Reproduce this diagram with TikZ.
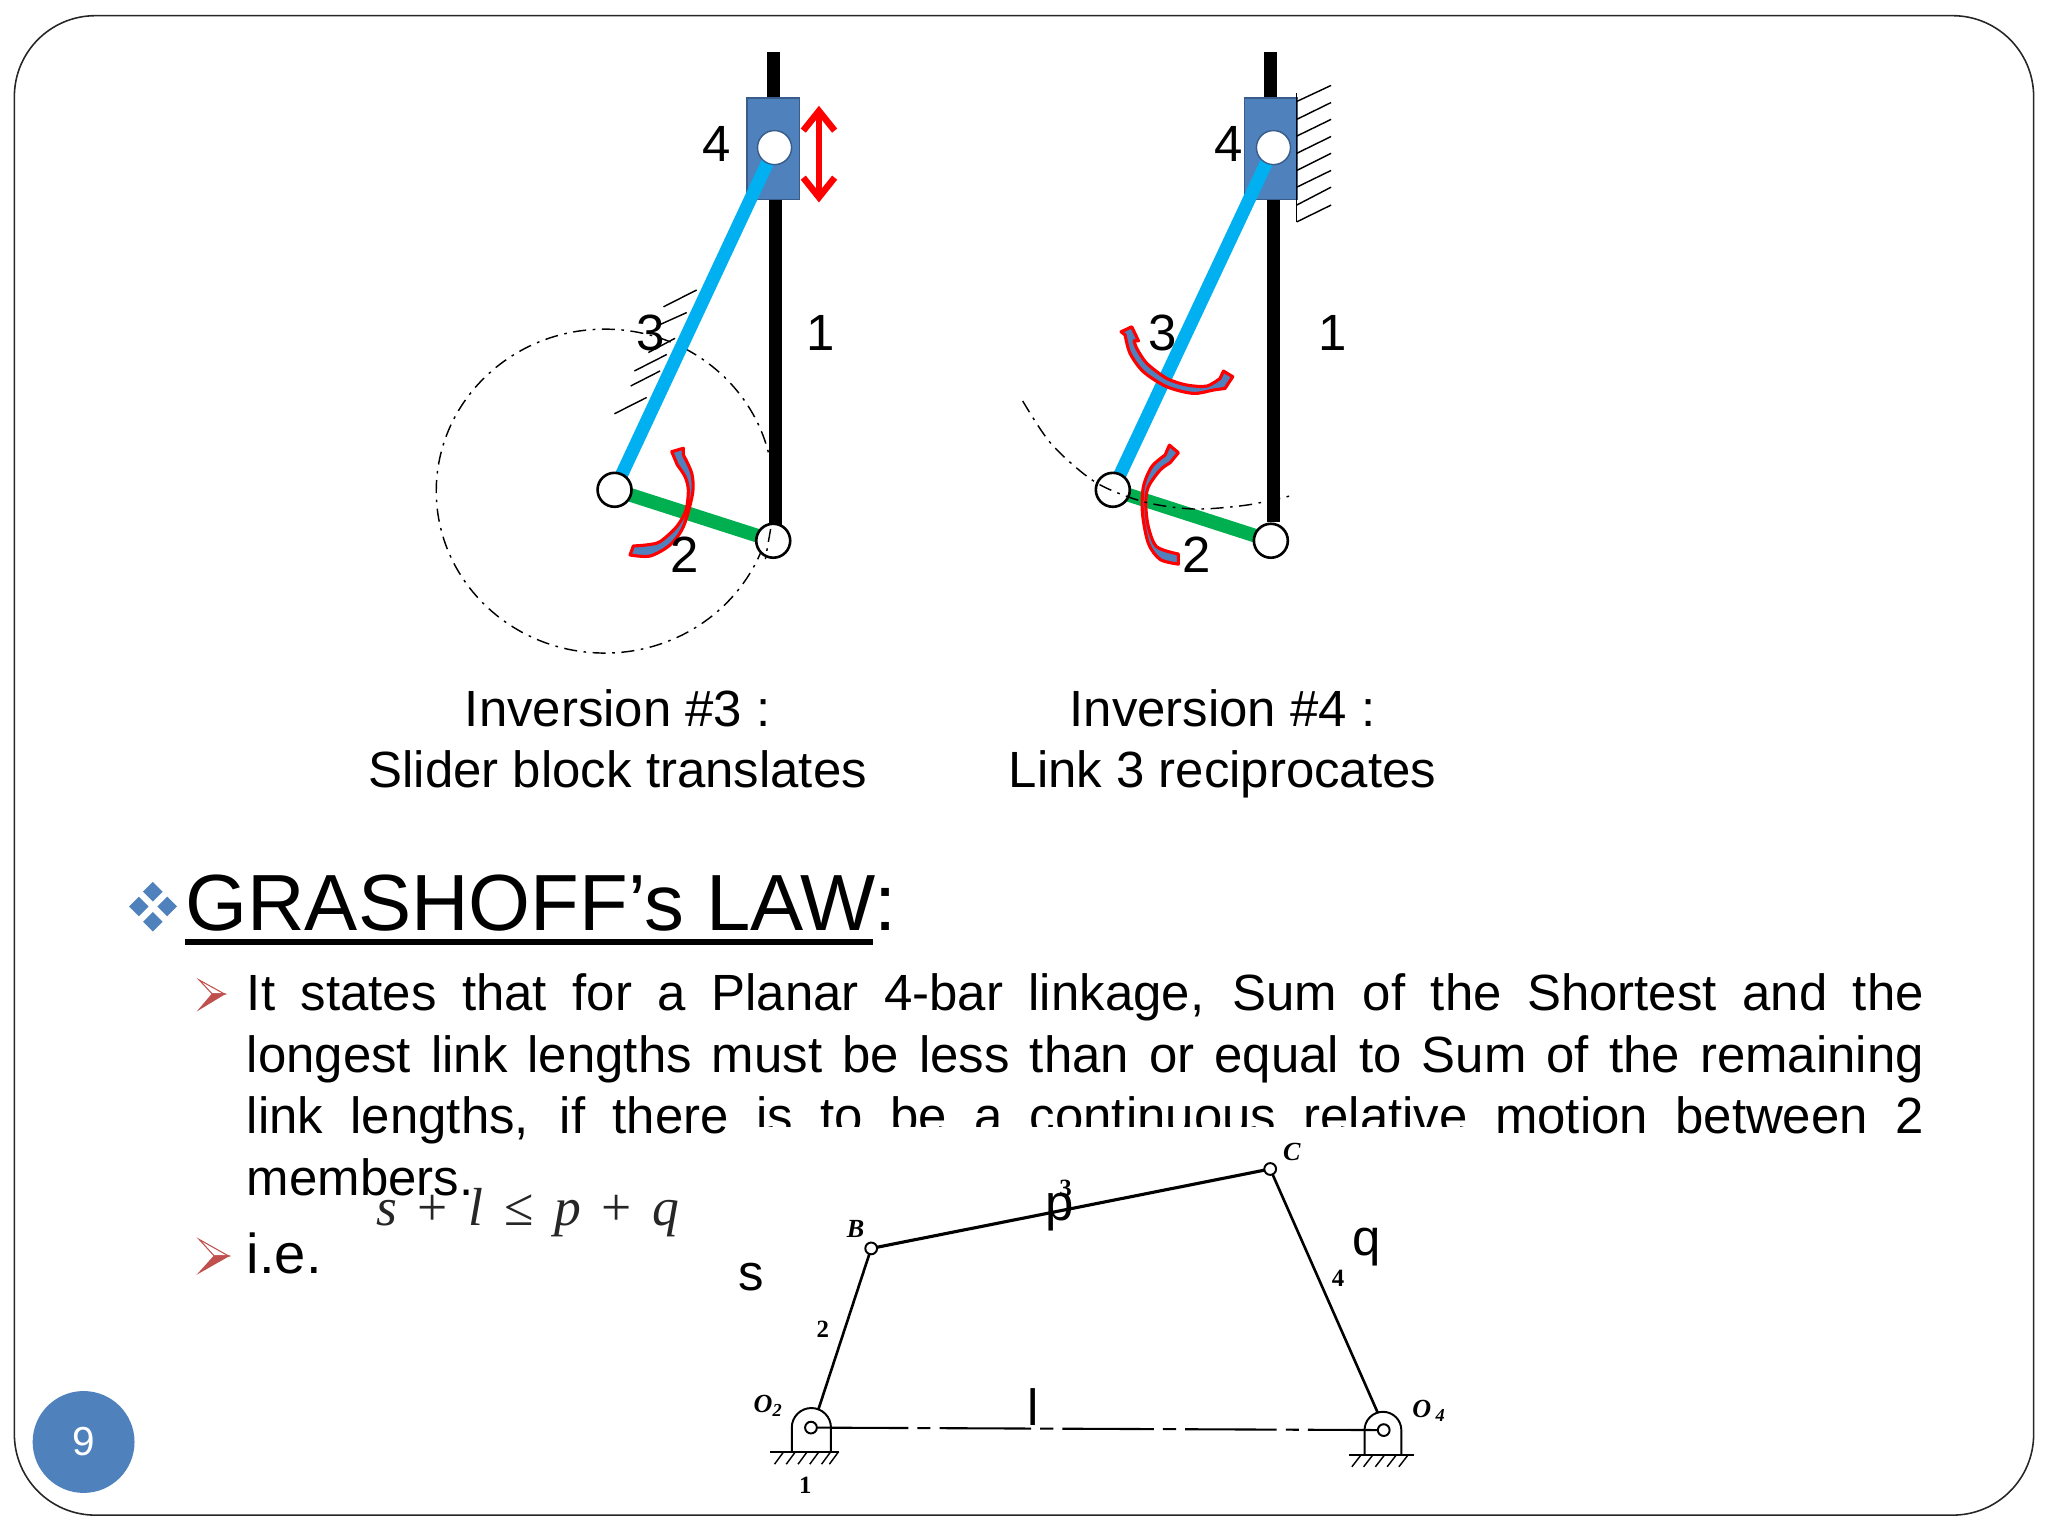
\documentclass[tikz,border=0pt]{standalone}
\usepackage{fontspec}
\setmainfont{Liberation Sans}
\newfontfamily\serifb{Liberation Serif}
\usetikzlibrary{arrows.meta,backgrounds}
\definecolor{blockblue}{HTML}{4F81BD}
\definecolor{blockedge}{HTML}{385D8A}
\definecolor{linkcyan}{HTML}{00B0F0}
\definecolor{linkgreen}{HTML}{00B050}
\definecolor{bulletred}{HTML}{C0504D}
\newcommand{\sz}[1]{\fontsize{#1}{#1}\selectfont}
\tikzset{
  x=1pt,y=-1pt,
  every node/.style={inner sep=0pt,outer sep=0pt},
  capt/.style={anchor=base,font=\sz{39}},
  num/.style={font=\sz{39}},
  bodyline/.style={anchor=base west,font=\sz{39}},
  pivot/.style={circle,draw=black,line width=2pt,fill=white,minimum size=26pt},
  pin/.style={circle,draw=blockedge,line width=1pt,fill=white,minimum size=26pt},
  slider/.style={rectangle,draw=blockedge,line width=1pt,fill=blockblue,minimum width=40pt,minimum height=78pt},
  barlink/.style={line width=10pt,black},
  crank/.style={line width=10.5pt,linkgreen},
  coupler/.style={line width=10pt,linkcyan},
  hatchline/.style={line width=1.1pt,black},
  chain/.style={line width=1.1pt,black,dash pattern=on 10pt off 5pt on 2pt off 5pt},
  rotarrow/.style={draw=red,line width=2.4pt,fill=blockblue,line join=round},
  scanlink/.style={line width=2pt,black},
  smallhinge/.style={circle,draw=black,line width=1.5pt,fill=white,minimum size=9pt},
  scan/.style={font=\serifb\bfseries\sz{19}},
  scanit/.style={font=\serifb\itshape\bfseries\sz{20}},
  scanground/.style={line width=1.5pt,black},
}
\begin{document}
\begin{tikzpicture}
\useasboundingbox (0,0) rectangle (1568,1176);
\begin{pgfonlayer}{background}
\fill[white] (0,0) rectangle (1568,1176);
\end{pgfonlayer}
% frame
\node[draw=black!85,line width=1.2pt,rounded corners=62pt,minimum width=1546pt,minimum height=1148pt] (frame) at (784,586) {};
\node[circle,fill=blockblue,minimum size=78pt,text=white,font=\sz{31}] (pagenum) at (64,1104) {9};

% ===== left mechanism =====
\node[pivot] (pa) at (470.5,375) {};
\node[pivot] (pb) at (592,414) {};
\coordinate (bartopa) at (592,40);
\coordinate (barmida) at (592,90);
\coordinate (barlowa) at (593.5,140);
\begin{pgfonlayer}{background}
  \draw[chain] (463,376) ellipse [x radius=129,y radius=124];
  \foreach \a/\b/\c/\d in {508/234.9/533.4/222, 502.8/249.6/525.8/239.3, 496.4/269.9/516.8/259,
    485.7/284/510.5/271.4, 482.9/295.5/505.4/284, 470.4/316.8/495.1/304.3}
    \draw[hatchline] (\a,\b) -- (\c,\d);
  \draw[barlink] (bartopa) -- (barmida);
  \draw[barlink] (barlowa) -- (593.5,405);
  \node[slider] (blocka) at (592,114) {};
  \node[pin] (pina) at (593,113) {};
  \draw[coupler] (pina.center) -- (pa.center);
  \node[pin] at (pina.center) {};
  \draw[crank] (pa.center) -- (pb.center);
\end{pgfonlayer}
\draw[chain] (590,405) -- (586,428);
\draw[red,line width=5pt,{Straight Barb[length=15pt,width=24pt]}-{Straight Barb[length=15pt,width=24pt]}] (627,81) -- (627,155);
\node[num] (la4) at (549,110) {4};
\node[num] (la3) at (498,255) {3};
\node[num] (la1) at (628,255) {1};
\draw[rotarrow] plot[smooth] coordinates {(482.4,424.9) (497.7,425.7) (513,417.2) (523.2,403.2) (530.3,377.7) (529.6,362.4) (523.2,348.3)}
  -- (523.2,343.2) -- (514.3,345.8) -- (518.6,356)
  -- plot[smooth] coordinates {(518.6,356) (524.5,364.9) (527,375.1) (525.2,390.5) (518.1,403.2) (505.3,414.7) (495.1,417.2) (484.9,418)} -- cycle;
\node[num] (la2) at (524,425) {2};

% ===== right mechanism =====
\node[pivot] (pc) at (852,375) {};
\node[pivot] (pd) at (973,414) {};
\coordinate (bartopb) at (973,40);
\coordinate (barmidb) at (973,90);
\coordinate (barlowb) at (975,140);
\begin{pgfonlayer}{background}
  \draw[barlink] (bartopb) -- (barmidb);
  \draw[barlink] (barlowb) -- (975,400);
  \node[slider] (blockb) at (973,114) {};
  \node[pin] (pinb) at (975,113) {};
  \draw[coupler] (pinb.center) -- (pc.center);
  \node[pin] at (pinb.center) {};
  \draw[crank] (pc.center) -- (pd.center);
\end{pgfonlayer}
\draw[hatchline] (992.8,71.4) -- (992.8,170);
\foreach \b/\d in {77.7/65.4,91.4/78.5,104.2/91.4,117.4/104.5,130.5/117.4,143.3/130.5,157/143.3,169.9/157}
  \draw[hatchline] (992.8,\b) -- (1019.1,\d);
\node[num] (lb4) at (941,110) {4};
\node[num] (lb3) at (890,255) {3};
\node[num] (lb1) at (1020,255) {1};
\node[num] (lb2) at (916,425) {2};
\draw[rotarrow] plot[smooth] coordinates {(902.2,431.9) (888.2,428.3) (879.2,416) (874.7,393.1) (875.4,372.7) (881.8,357.3) (892,348.4)}
  -- (895.3,340.8) -- (902.2,346.6) -- (895.8,354.3)
  -- plot[smooth] coordinates {(895.8,354.3) (888.2,359.9) (879.2,372.7) (877.2,385.4) (879.2,403.3) (885.6,418.6) (902.2,424.2)} -- cycle;
\draw[rotarrow] plot[smooth] coordinates {(861.4,256.5) (865.2,270.6) (875.4,284.6) (893.3,296.1) (913.7,301.2) (929,298.6) (937.9,297.4)}
  -- (943.8,288.4) -- (936.7,284.1) -- (934.1,289.7)
  -- plot[smooth] coordinates {(934.1,289.7) (923.9,295.6) (908.6,294.8) (893.3,289.7) (878,278.2) (870.3,266.7) (868.3,260.9)}
  -- (871.6,260.9) -- (866.5,250.2) -- (858.3,254) -- cycle;
\draw[chain] plot[smooth] coordinates {(783,307) (805,340) (838.4,369) (875.4,384.1) (913.7,389.7) (954.5,386.7) (989,379.4)};

% captions
\node[capt] (cap3a) at (473,556) {Inversion \#3 :};
\node[capt] (cap3b) at (473,603) {Slider block translates};
\node[capt] (cap4a) at (936,556) {Inversion \#4 :};
\node[capt] (cap4b) at (936,603) {Link 3 reciprocates};

% title
\node[anchor=base west,font=\sz{61}] (title) at (142,712.6) {GRASHOFF’s LAW:};
\draw[line width=4.5pt] (141.3,721.5) -- (668,721.5);
\foreach \cx/\cy in {117/682.7,106.3/694,128/694,117/705.7}
  \fill[blockblue] (\cx-7.5,\cy) -- (\cx,\cy-7.5) -- (\cx+7.5,\cy) -- (\cx,\cy+7.5) -- cycle;

% bullets
\draw[bulletred,line width=.8pt,fill=white] (152.5,750.3) -- (171.9,761) -- (162.5,761) -- cycle;
\draw[bulletred,line width=.8pt,fill=bulletred] (152.5,772.8) -- (171.9,761) -- (162.5,761) -- cycle;
\draw[bulletred,line width=.8pt,fill=white] (152.5,948.9) -- (175,961.6) -- (164,961.6) -- cycle;
\draw[bulletred,line width=.8pt,fill=bulletred] (152.5,974.4) -- (175,961.6) -- (164,961.6) -- cycle;

% body
\node[bodyline] (b1) at (189,774) {\hbox to 1284pt{It states that for a Planar 4-bar linkage, Sum of the Shortest and the}};
\node[bodyline] (b2) at (189,821) {\hbox to 1284pt{longest link lengths must be less than or equal to Sum of the remaining}};
\node[bodyline] (b3) at (189,868) {\hbox to 1284pt{link lengths, if there is to be a continuous relative motion between 2}};
\fill[white] (565,863) rectangle (1125,1155);
\node[bodyline] (b4) at (189,915) {members.};
\node[bodyline,font=\sz{43}] (b5) at (189,975) {i.e.};
\node[anchor=base west,text=black!85,font=\serifb\sz{41}] (formula) at (288,938)
  {\hbox to 232pt{\itshape s\hfil\upshape +\hfil\itshape l\hfil\upshape ≤\hfil\itshape p\hfil\upshape +\hfil\itshape q}};

% ===== four-bar sketch =====
\node[smallhinge] (B) at (667,955.8) {};
\node[smallhinge] (C) at (972.5,895) {};
\coordinate (O2top) at (626.4,1079.6);
\coordinate (O4top) at (1055,1082);
\draw[scanlink] (B) -- (O2top);
\draw[scanlink,line width=2.4pt] (B) -- (C);
\draw[scanlink] (C) -- (O4top);
\draw[scanground] (606.2,1111.5) -- (606.2,1093) arc[start angle=180,end angle=360,radius=15] -- (636.2,1111.5);
\draw[scanground] (589.8,1111.5) -- (642.1,1111.5);
\foreach \hx in {600,609,618,627,636,642}
  \draw[line width=1.1pt] (\hx,1111.5) -- (\hx-7,1121);
\draw[scanground] (1044.7,1114) -- (1044.7,1095) arc[start angle=180,end angle=360,radius=14.1] -- (1072.9,1114);
\draw[scanground] (1033,1114) -- (1082.4,1114);
\foreach \hx in {1042,1051,1060,1069,1078}
  \draw[line width=1.1pt] (\hx,1114) -- (\hx-7,1123);
\node[smallhinge] (O2) at (620.9,1093) {};
\node[smallhinge] (O4) at (1059.4,1094.9) {};
\draw[line width=1.6pt,dash pattern=on 70pt off 7pt on 10pt off 7pt] (O2) -- (O4);
\node[scanit] (lB) at (655,941) {B};
\node[scanit] (lC) at (989,882) {C};
\node[scanit] (lO2) at (588,1076) {O\textsubscript{2}};
\node[scanit] (lO4) at (1094,1080) {O\,\textsubscript{4}};
\node[scan] (l2) at (630,1018) {2};
\node[scan] (l3) at (815.8,910) {3};
\node[scan] (l4) at (1024.5,979) {4};
\node[scan] (l1) at (616.5,1137) {1};
\node[num] (ls) at (575,978) {s};
\node[num] (lp) at (811,928) {p};
\node[num] (lq) at (1046,955) {q};
\node[num] (ll) at (791,1077) {l};
\end{tikzpicture}
\end{document}
